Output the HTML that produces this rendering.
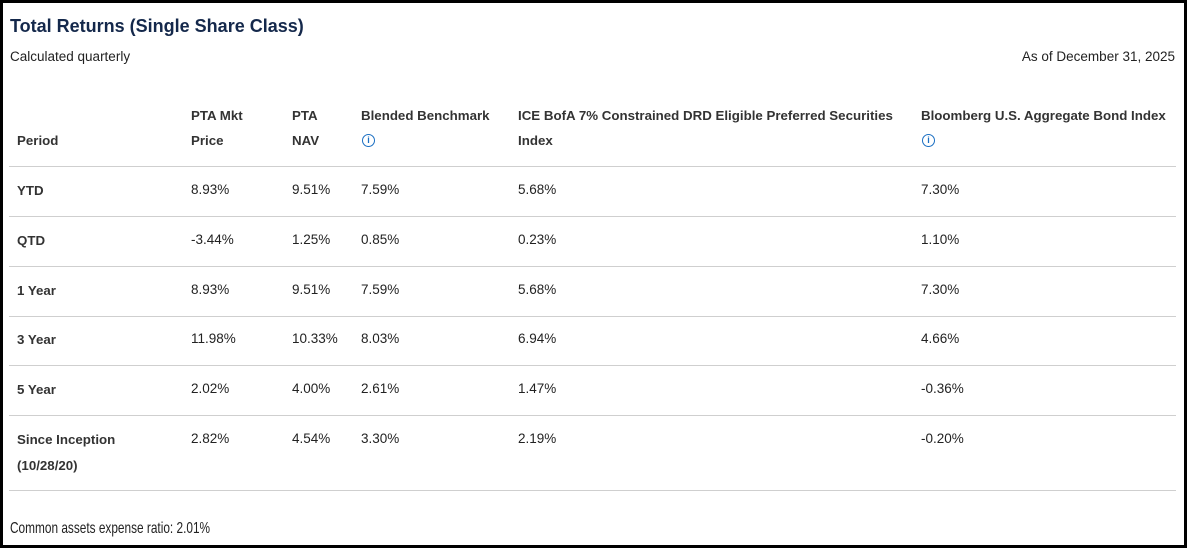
<!DOCTYPE html>
<html><head><meta charset="utf-8"><style>
html,body{margin:0;padding:0;}
body{width:1187px;height:548px;position:relative;overflow:hidden;background:#fff;font-family:"Liberation Sans",sans-serif;color:#222;}
.frame{position:absolute;left:0;top:0;width:1181px;height:542px;border:3px solid #000;}
.t{position:absolute;white-space:nowrap;font-size:13.5px;line-height:14px;}
.h{font-weight:bold;color:#333;font-size:13.3px;}
.line{position:absolute;left:9px;width:1167px;height:1px;background:#cfcfcf;}
.info{display:inline-block;width:11px;height:11px;border:1.3px solid #1b6fc2;border-radius:50%;color:#1b6fc2;font-size:9px;line-height:11px;text-align:center;font-weight:bold;}
</style></head><body>
<div class="frame"></div>
<div class="t" style="left:10px;top:16px;font-size:18px;line-height:20px;font-weight:bold;color:#14284b;">Total Returns (Single Share Class)</div>
<div class="t" style="left:10px;top:50px;">Calculated quarterly</div>
<div class="t" style="right:12px;top:50px;">As of December 31, 2025</div>

<div class="t h" style="left:17px;top:134px;">Period</div>
<div class="t h" style="left:191px;top:109px;">PTA Mkt</div>
<div class="t h" style="left:191px;top:134px;">Price</div>
<div class="t h" style="left:292px;top:109px;">PTA</div>
<div class="t h" style="left:292px;top:134px;">NAV</div>
<div class="t h" style="left:361px;top:109px;">Blended Benchmark</div>
<div class="t" style="left:362px;top:132px;"><span class="info">i</span></div>
<div class="t h" style="left:518px;top:109px;">ICE BofA 7% Constrained DRD Eligible Preferred Securities</div>
<div class="t h" style="left:518px;top:134px;">Index</div>
<div class="t h" style="left:921px;top:109px;">Bloomberg U.S. Aggregate Bond Index</div>
<div class="t" style="left:922px;top:132px;"><span class="info">i</span></div>

<div class="line" style="top:166px;"></div>
<div id="rows"></div>
<div class="t" style="left:10px;top:520px;font-size:16px;line-height:17px;transform:scaleX(0.74);transform-origin:0 0;">Common assets expense ratio: 2.01%</div>
<script>
const periods=["YTD","QTD","1 Year","3 Year","5 Year","Since Inception"];
const mkt=["8.93%","-3.44%","8.93%","11.98%","2.02%","2.82%"];
const nav=["9.51%","1.25%","9.51%","10.33%","4.00%","4.54%"];
const blended=["7.59%","0.85%","7.59%","8.03%","2.61%","3.30%"];
const ice=["5.68%","0.23%","5.68%","6.94%","1.47%","2.19%"];
const bbg=["7.30%","1.10%","7.30%","4.66%","-0.36%","-0.20%"];
const tops=[183,233,283,332,382,432];
const lines=[216,266,316,365,415,490];
const cols=[[mkt,191],[nav,292],[blended,361],[ice,518],[bbg,921]];
const root=document.getElementById('rows');
function add(txt,x,y,cls,name){const d=document.createElement('div');d.className='t'+(cls?' '+cls:'');d.style.left=x+'px';d.style.top=y+'px';d.textContent=txt;


root.appendChild(d);}
periods.forEach((p,i)=>{
 add(p,17,tops[i]+1,'h','row-label');
 cols.forEach(([arr,x])=>add(arr[i],x,tops[i],'','cell-value'));
 const l=document.createElement('div');l.className='line';l.style.top=lines[i]+'px';
 
 
 root.appendChild(l);
});
add("(10/28/20)",17,459,'h','inception-date');
</script>
</body></html>
